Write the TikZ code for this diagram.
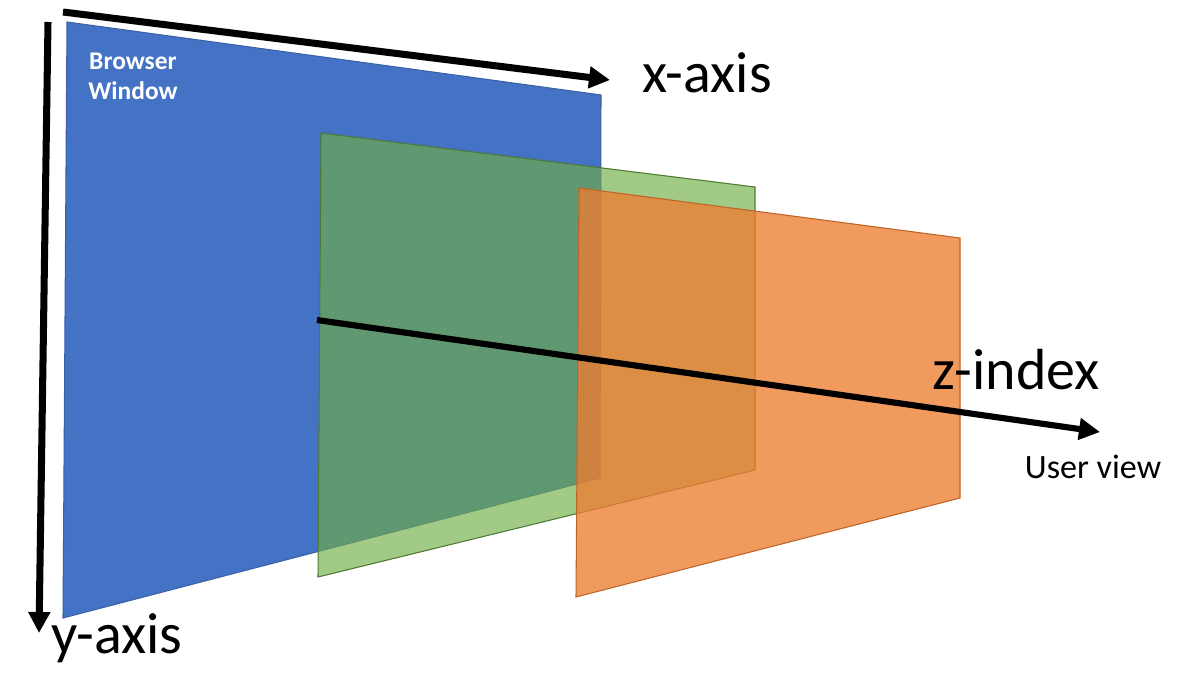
\documentclass[tikz,border=0pt]{standalone}
\usepackage{fontspec}
\setmainfont{Carlito}
\usepackage{xcolor}
\usetikzlibrary{arrows.meta}
\definecolor{winblue}{HTML}{4472C4}
\definecolor{layergreen}{HTML}{70AD47}
\definecolor{layerorange}{HTML}{ED7D31}

\begin{document}
\begin{tikzpicture}[x=0.02cm, y=-0.02cm,
    axis/.style={line width=4pt, -{Triangle[length=0.42cm, width=0.42cm]}},
    biglabel/.style={font=\fontsize{33}{40}\selectfont, anchor=base}]

      \useasboundingbox (0,0) rectangle (1200,675);

      % Draw the three layers
      \filldraw[fill=winblue, draw=winblue!85!black, line width=0.6pt] (67,22) -- (601,95) -- (600,478) -- (63,618) -- cycle;
      \filldraw[fill=layergreen, fill opacity=0.65, draw=layergreen!70!black, line width=0.6pt] (321,133) -- (755,187) -- (755,470) -- (318,577) -- cycle;
      \filldraw[fill=layerorange, fill opacity=0.78, draw=layerorange!80!black, line width=0.6pt] (579,188) -- (960,238) -- (960,498) -- (576,597) -- cycle;

      \node[text=white, font=\bfseries\fontsize{14.5}{17}\selectfont, align=center] (browser) at (133,76) {Browser\\Window};

      % Define axis end points
      \coordinate (xfrom) at (63,12);
      \coordinate (xto) at (610,80);
      \coordinate (yfrom) at (48,22);
      \coordinate (yto) at (39,633);
      \coordinate (zfrom) at (317,320);
      \coordinate (zto) at (1100,432);

      % Draw the axes
      \draw[axis] (xfrom) -- (xto);
      \draw[axis] (yfrom) -- (yto);
      \draw[axis, line width=3.5pt] (zfrom) -- (zto);

      \node[biglabel] (xlabel) at (707,93) {x-axis};
      \node[biglabel] (ylabel) at (117,653) {y-axis};
      \node[biglabel] (zlabel) at (1016,390) {z-index};
      \node[anchor=base, font=\fontsize{19.4}{23}\selectfont] (view) at (1093,478) {User view};
    \end{tikzpicture}
\end{document}
